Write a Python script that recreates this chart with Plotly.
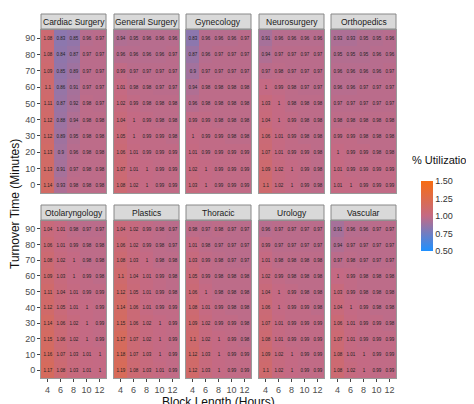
import plotly.graph_objects as go

block = [4, 6, 8, 10, 12]
turnover = [90, 80, 70, 60, 50, 40, 30, 20, 10, 0]
services = ["Cardiac Surgery", "General Surgery", "Gynecology", "Neurosurgery", "Orthopedics",
            "Otolaryngology", "Plastics", "Thoracic", "Urology", "Vascular"]

# rows go from turnover 90 (top) down to 0
cardiac = [[1.08, 0.83, 0.85, 0.96, 0.97], [1.08, 0.84, 0.87, 0.97, 0.97], [1.09, 0.85, 0.89, 0.97, 0.97],
           [1.1, 0.86, 0.91, 0.97, 0.97], [1.11, 0.87, 0.92, 0.98, 0.97], [1.12, 0.88, 0.94, 0.98, 0.98],
           [1.12, 0.89, 0.95, 0.98, 0.98], [1.13, 0.9, 0.96, 0.98, 0.98], [1.13, 0.91, 0.97, 0.98, 0.98],
           [1.14, 0.93, 0.98, 0.98, 0.98]]
general = [[0.94, 0.95, 0.96, 0.96, 0.96], [0.96, 0.96, 0.96, 0.96, 0.97], [0.99, 0.97, 0.97, 0.97, 0.97],
           [1.01, 0.98, 0.98, 0.97, 0.97], [1.02, 0.99, 0.98, 0.98, 0.98], [1.04, 1, 0.99, 0.98, 0.98],
           [1.05, 1, 0.99, 0.99, 0.98], [1.06, 1.01, 0.99, 0.99, 0.99], [1.07, 1.01, 1, 0.99, 0.99],
           [1.08, 1.02, 1, 0.99, 0.99]]
gyne = [[0.83, 0.96, 0.96, 0.96, 0.97], [0.87, 0.96, 0.97, 0.97, 0.97], [0.9, 0.97, 0.97, 0.97, 0.97],
        [0.94, 0.98, 0.98, 0.98, 0.98], [0.96, 0.98, 0.98, 0.98, 0.98], [0.99, 0.99, 0.98, 0.98, 0.98],
        [1, 0.99, 0.99, 0.98, 0.98], [1.01, 0.99, 0.99, 0.99, 0.99], [1.02, 1, 0.99, 0.99, 0.99],
        [1.03, 1, 0.99, 0.99, 0.99]]
neuro = [[0.91, 0.96, 0.96, 0.96, 0.96], [0.94, 0.97, 0.97, 0.97, 0.97], [0.97, 0.98, 0.97, 0.97, 0.97],
         [1, 0.99, 0.98, 0.97, 0.97], [1.03, 1, 0.98, 0.98, 0.98], [1.04, 1, 0.99, 0.98, 0.98],
         [1.06, 1.01, 0.99, 0.98, 0.98], [1.07, 1.01, 0.99, 0.99, 0.98], [1.09, 1.02, 1, 0.99, 0.98],
         [1.1, 1.02, 1, 0.99, 0.98]]
ortho = [[0.93, 0.93, 0.95, 0.95, 0.96], [0.95, 0.95, 0.95, 0.96, 0.96], [0.96, 0.96, 0.96, 0.96, 0.97],
         [0.96, 0.96, 0.97, 0.97, 0.97], [0.97, 0.97, 0.97, 0.97, 0.97], [0.98, 0.98, 0.98, 0.98, 0.98],
         [0.99, 0.99, 0.98, 0.98, 0.98], [1, 0.99, 0.99, 0.98, 0.98], [1.01, 0.99, 0.99, 0.99, 0.99],
         [1.01, 1, 0.99, 0.99, 0.99]]
oto = [[1.04, 1.01, 0.98, 0.97, 0.97], [1.06, 1.01, 0.99, 0.98, 0.98], [1.08, 1.02, 1, 0.98, 0.98],
       [1.09, 1.03, 1, 0.99, 0.98], [1.11, 1.04, 1.01, 0.99, 0.99], [1.12, 1.05, 1.01, 1, 0.99],
       [1.14, 1.06, 1.02, 1, 0.99], [1.15, 1.06, 1.02, 1, 0.99], [1.16, 1.07, 1.03, 1.01, 1],
       [1.17, 1.08, 1.03, 1.01, 1]]
plastics = [[1.04, 1.02, 0.99, 0.98, 0.97], [1.06, 1.02, 0.99, 0.98, 0.97], [1.08, 1.03, 1, 0.98, 0.98],
            [1.1, 1.04, 1.01, 0.99, 0.98], [1.12, 1.05, 1.01, 0.99, 0.98], [1.14, 1.06, 1.01, 0.99, 0.99],
            [1.15, 1.06, 1.02, 1, 0.99], [1.17, 1.07, 1.02, 1, 0.99], [1.18, 1.07, 1.03, 1, 0.99],
            [1.19, 1.08, 1.03, 1.01, 0.99]]
thoracic = [[0.98, 0.97, 0.98, 0.97, 0.97], [1.01, 0.98, 0.97, 0.97, 0.97], [1.03, 0.99, 0.98, 0.97, 0.97],
            [1.05, 0.99, 0.98, 0.98, 0.98], [1.06, 1, 0.98, 0.98, 0.98], [1.08, 1.01, 0.99, 0.98, 0.98],
            [1.09, 1.02, 0.99, 0.99, 0.98], [1.1, 1.02, 1, 0.99, 0.98], [1.12, 1.03, 1, 0.99, 0.99],
            [1.12, 1.03, 1, 0.99, 0.99]]
urology = [[0.96, 0.97, 0.97, 0.97, 0.97], [0.99, 0.97, 0.97, 0.97, 0.97], [1.01, 0.98, 0.98, 0.98, 0.98],
           [1.02, 0.99, 0.98, 0.98, 0.98], [1.04, 1, 0.99, 0.98, 0.98], [1.06, 1, 0.99, 0.99, 0.98],
           [1.07, 1.01, 0.99, 0.99, 0.99], [1.08, 1.01, 0.99, 0.99, 0.99], [1.09, 1.02, 1, 0.99, 0.99],
           [1.1, 1.02, 1, 0.99, 0.99]]
vascular = [[0.91, 0.96, 0.96, 0.97, 0.97], [0.94, 0.97, 0.97, 0.97, 0.97], [0.97, 0.98, 0.97, 0.97, 0.97],
            [1, 0.99, 0.98, 0.98, 0.98], [1.03, 0.99, 0.98, 0.98, 0.98], [1.04, 1, 0.99, 0.98, 0.98],
            [1.06, 1.01, 0.99, 0.99, 0.98], [1.07, 1.01, 0.99, 0.99, 0.99], [1.08, 1.01, 1, 0.99, 0.99],
            [1.08, 1.02, 1, 0.99, 0.99]]
values = [cardiac, general, gyne, neuro, ortho, oto, plastics, thoracic, urology, vascular]

W, H = 474, 404
fig = go.Figure()

px_left = [33, 106, 178, 251, 323]
pw = 65
rows = [(22, 185), (213, 370)]  # panel top/bottom in px
strip_h = 15

def fmt(v):
    return ("%.2f" % v).rstrip("0").rstrip(".")

for i, (name, z) in enumerate(zip(services, values)):
    r, c = divmod(i, 5)
    n = i + 1
    ax = "" if n == 1 else str(n)
    x0 = px_left[c] / W
    x1 = (px_left[c] + pw) / W
    top, bot = rows[r]
    y0 = 1 - bot / H
    y1 = 1 - top / H
    fig.add_trace(go.Heatmap(
        x=block, y=turnover, z=z, text=[[fmt(v) for v in row] for row in z],
        texttemplate="%{text}", textfont=dict(size=4.5, color="#222"),
        coloraxis="coloraxis", xaxis="x" + ax, yaxis="y" + ax, xgap=0, ygap=0))
    fig.layout["xaxis" + ax] = dict(domain=[x0, x1], anchor="y" + ax, range=[3, 13],
                                    tickvals=block, showticklabels=(r == 1), ticks="outside" if r == 1 else "",
                                    ticklen=3, tickangle=0, tickfont=dict(size=9, color="#4d4d4d"),
                                    showgrid=False, zeroline=False, showline=True, linecolor="#999",
                                    mirror=True)
    fig.layout["yaxis" + ax] = dict(domain=[y0, y1], anchor="x" + ax, range=[-5, 95],
                                    tickvals=list(range(0, 100, 10)), showticklabels=(c == 0),
                                    ticks="outside" if c == 0 else "", ticklen=3,
                                    tickfont=dict(size=9, color="#4d4d4d"), showgrid=False,
                                    zeroline=False, showline=True, linecolor="#999", mirror=True)
    fig.add_shape(type="rect", xref="paper", yref="paper", x0=x0, x1=x1,
                  y0=y1 + 1 / H, y1=y1 + (strip_h + 1) / H,
                  fillcolor="#d9d9d9", line=dict(color="#888", width=1))
    fig.add_annotation(text=name, xref="paper", yref="paper", x=(x0 + x1) / 2,
                       y=y1 + (strip_h / 2 + 1) / H, xanchor="center", yanchor="middle",
                       showarrow=False, font=dict(size=8.5, color="#1a1a1a"))

fig.add_annotation(text="Block Length (Hours)", xref="paper", yref="paper", x=210 / W, y=1 - 394 / H,
                   xanchor="center", yanchor="middle", showarrow=False, font=dict(size=12, color="#111"))
fig.add_annotation(text="Turnover Time (Minutes)", xref="paper", yref="paper", x=7 / W, y=1 - 196 / H,
                   xanchor="center", yanchor="middle", showarrow=False, textangle=-90,
                   font=dict(size=12, color="#111"))
fig.add_annotation(text="% Utilization", xref="paper", yref="paper", x=402 / W, y=1 - 152 / H,
                   xanchor="left", yanchor="middle", showarrow=False, font=dict(size=11, color="#111"))

fig.update_layout(
    width=W, height=H, margin=dict(l=0, r=0, t=0, b=0),
    paper_bgcolor="white", plot_bgcolor="white", showlegend=False,
    font=dict(family="Liberation Sans, Arial, sans-serif"),
    coloraxis=dict(cmin=0.5, cmax=1.5,
                   colorscale=[[0, "#1e90ff"], [0.5, "#c46a84"], [1, "#f76c12"]],
                   colorbar=dict(x=403 / W, xanchor="left", y=1 - 208 / H, yanchor="middle",
                                 len=90 / H, lenmode="fraction", thickness=12, outlinewidth=0,
                                 tickvals=[0.5, 0.75, 1.0, 1.25, 1.5],
                                 ticktext=["0.50", "0.75", "1.00", "1.25", "1.50"],
                                 tickfont=dict(size=9, color="#333"))),
)

fig.write_html("out.html")
